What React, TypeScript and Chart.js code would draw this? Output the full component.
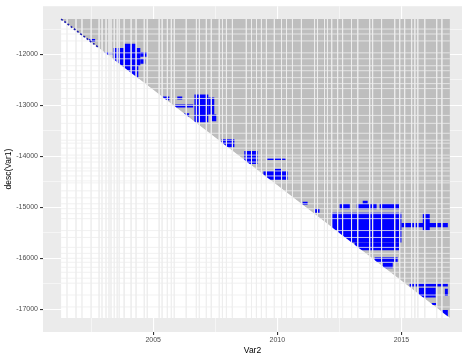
import { useEffect, useRef } from 'react';
import { Chart, registerables } from 'chart.js';
Chart.register(...registerables);

// Axis limits (Var2 in years, desc(Var1) values)
const X_LIMITS = [2000.56, 2017.44];
const Y_LIMITS = [-17448, -11051];
const X_MAJOR = [2005, 2010, 2015];
const X_MINOR = [2002.5, 2007.5, 2012.5];
const Y_MAJOR = [-17000, -16000, -15000, -14000, -13000, -12000];
const Y_MINOR = [-16500, -15500, -14500, -13500, -12500, -11500];

// Extent of the tile grid
const TILE_X = [2001.29, 2016.95];
const TILE_Y = [-11304, -17171];

// Blue cells: [x1, x2, y1, y2]
const BLUE_CELLS = [
  [2003.39, 2004.48, -11870, -12220],
  [2003.83, 2004.31, -11790, -11890],
  [2004.48, 2004.76, -11950, -12045],
  [2004.48, 2004.68, -12085, -12180],
  [2003.75, 2004.4, -12220, -12475],
  [2002.98, 2003.35, -11950, -12005],
  [2002.42, 2002.66, -11695, -11750],
  [2006.66, 2007.22, -12785, -13330],
  [2007.22, 2007.46, -12845, -13175],
  [2007.34, 2007.54, -13175, -13310],
  [2005.36, 2005.65, -12825, -12900],
  [2005.97, 2006.17, -12825, -12885],
  [2005.89, 2006.61, -12980, -13040],
  [2006.25, 2006.45, -13155, -13215],
  [2007.75, 2008.27, -13660, -13820],
  [2008.67, 2009.2, -13895, -14150],
  [2009.6, 2010.33, -14035, -14070],
  [2009.44, 2010.41, -14285, -14460],
  [2009.89, 2010.17, -14245, -14285],
  [2012.19, 2015.0, -15105, -15690],
  [2012.51, 2012.92, -14930, -15040],
  [2013.2, 2014.0, -14930, -15040],
  [2014.12, 2014.93, -14930, -15040],
  [2013.44, 2013.64, -14870, -14970],
  [2015.0, 2016.87, -15310, -15390],
  [2015.86, 2016.14, -15125, -15455],
  [2013.11, 2014.93, -15690, -15845],
  [2013.92, 2014.85, -15980, -16080],
  [2014.25, 2014.65, -16080, -16195],
  [2015.33, 2016.87, -16500, -16555],
  [2015.7, 2016.38, -16580, -16770],
  [2016.22, 2016.42, -16880, -16920],
  [2016.63, 2016.87, -17015, -17150],
  [2016.75, 2016.87, -16600, -16740],
  [2011.02, 2011.22, -14890, -14950],
  [2011.5, 2011.7, -15030, -15105],
];

// Blue cells along the diagonal at the start
const DIAG_BLUE_X = [2001.29, 2002.82];
const DIAG_BLUE_Y = [-11304, -11870];

// Gaps between tiles
const V_GAPS = [
  2001.53, 2001.89, 2002.13, 2002.5, 2002.82, 2002.94, 2003.1, 2003.22, 2003.3, 2003.43,
  2003.55, 2003.63, 2003.83, 2004.11, 2004.31, 2004.64, 2004.76, 2005.24, 2005.36, 2005.57,
  2005.73, 2005.85, 2006.33, 2006.74, 2006.86, 2007.14, 2007.34, 2007.66, 2007.79, 2007.95,
  2008.19, 2008.75, 2008.96, 2009.16, 2009.36, 2009.56, 2009.88, 2010.17, 2010.37, 2010.61,
  2010.97, 2011.5, 2011.62, 2011.9, 2012.02, 2012.19, 2012.43, 2012.63, 2012.99, 2013.24,
  2013.72, 2013.84, 2014.2, 2014.73, 2014.93, 2015.13, 2015.41, 2015.54, 2015.66, 2015.94,
  2016.42, 2016.63,
];
const H_GAPS = [
  -11499, -11597, -11733, -11967, -12084, -12220, -12318, -12454, -12571, -12669, -12863,
  -13000, -13195, -13351, -13546, -13682, -13740, -13838, -13975, -14033, -14111, -14228,
  -14286, -14384, -14481, -14520, -14676, -14813, -14930, -15027, -15124, -15222, -15456,
  -15592, -15787, -15904, -16001, -16080, -16177, -16275, -16392, -16489, -16722, -16956,
];

const FONT = 'Liberation Sans, Arial, sans-serif';

const rectPoly = (r: number[]) => [
  { x: r[0], y: r[2] },
  { x: r[1], y: r[2] },
  { x: r[1], y: r[3] },
  { x: r[0], y: r[3] },
  { x: r[0], y: r[2] },
];

const shape = (data: any[], color: string, order: number) => ({
  data,
  fill: 'shape',
  backgroundColor: color,
  borderColor: 'rgba(0,0,0,0)',
  borderWidth: 0,
  pointRadius: 0,
  order,
});

export default function App() {
  const ref = useRef<HTMLCanvasElement>(null);

  useEffect(() => {
    const [x0, x1] = TILE_X;
    const [y0, y1] = TILE_Y;
    const gray = [
      { x: x0, y: y0 },
      { x: x1, y: y0 },
      { x: x1, y: y1 },
      { x: x0, y: y0 },
    ];
    const white = [
      { x: x0, y: y0 },
      { x: x1, y: y1 },
      { x: x0, y: y1 },
      { x: x0, y: y0 },
    ];
    const vGap = V_GAPS.flatMap((x) => [
      { x, y: y0 },
      { x, y: y1 },
      { x, y: null },
    ]);
    const hGap = H_GAPS.flatMap((y) => [
      { x: x0, y },
      { x: x1, y },
      { x: x1, y: null },
    ]);
    const gapStyle = {
      fill: false,
      borderColor: '#EEEEEE',
      borderWidth: 0.8,
      pointRadius: 0,
      spanGaps: false,
      order: 2,
    };

    const datasets: any[] = [
      shape(gray, '#BEBEBE', 6),
      ...BLUE_CELLS.map((r) => shape(rectPoly(r), '#0000FF', 5)),
      shape(white, '#FFFFFF', 4),
      { ...gapStyle, data: vGap },
      { ...gapStyle, data: hGap },
      {
        data: DIAG_BLUE_X.map((x, i) => ({ x, y: DIAG_BLUE_Y[i] })),
        fill: false,
        borderColor: '#1A1AB0',
        borderWidth: 1.6,
        borderDash: [2, 2],
        pointRadius: 0,
        order: 1,
      },
    ];

    const bg = {
      id: 'panelBg',
      beforeDraw(chart: any) {
        const { ctx, chartArea: a } = chart;
        ctx.save();
        ctx.fillStyle = '#FFFFFF';
        ctx.fillRect(0, 0, chart.width, chart.height);
        ctx.fillStyle = '#EBEBEB';
        ctx.fillRect(a.left, a.top, a.right - a.left, a.bottom - a.top);
        ctx.restore();
      },
    };

    const xGrid = [...X_MINOR, ...X_MAJOR].sort((a, b) => a - b);
    const yGrid = [...Y_MINOR, ...Y_MAJOR].sort((a, b) => a - b);

    const chart = new Chart(ref.current!, {
      type: 'line',
      data: { datasets },
      plugins: [bg],
      options: {
        animation: false,
        responsive: false,
        events: [],
        layout: { padding: { left: 0, top: 4, right: 12, bottom: 0 } },
        plugins: { legend: { display: false }, tooltip: { enabled: false } },
        scales: {
          x: {
            type: 'linear',
            min: X_LIMITS[0],
            max: X_LIMITS[1],
            afterBuildTicks: (s: any) => {
              s.ticks = xGrid.map((v) => ({ value: v }));
            },
            afterFit: (s: any) => {
              s.height = 26;
            },
            border: { display: false },
            grid: {
              color: '#FFFFFF',
              lineWidth: (c: any) => (X_MAJOR.includes(c.tick?.value) ? 1.1 : 0.5),
              tickLength: 3,
              tickColor: (c: any) => (X_MAJOR.includes(c.tick?.value) ? '#333333' : 'rgba(0,0,0,0)'),
            },
            ticks: {
              autoSkip: false,
              maxRotation: 0,
              padding: 1,
              color: '#4D4D4D',
              font: { size: 7, family: FONT },
              callback: (v: any) => (X_MAJOR.includes(v) ? String(v) : ''),
            },
            title: {
              display: true,
              text: 'Var2',
              color: '#000000',
              font: { size: 8.5, family: FONT },
              padding: { top: 0, bottom: 2 },
            },
          },
          y: {
            type: 'linear',
            min: Y_LIMITS[0],
            max: Y_LIMITS[1],
            afterBuildTicks: (s: any) => {
              s.ticks = yGrid.map((v) => ({ value: v }));
            },
            afterFit: (s: any) => {
              s.width = 43;
            },
            border: { display: false },
            grid: {
              color: '#FFFFFF',
              lineWidth: (c: any) => (Y_MAJOR.includes(c.tick?.value) ? 1.1 : 0.5),
              tickLength: 3,
              tickColor: (c: any) => (Y_MAJOR.includes(c.tick?.value) ? '#333333' : 'rgba(0,0,0,0)'),
            },
            ticks: {
              autoSkip: false,
              padding: 2,
              color: '#4D4D4D',
              font: { size: 7, family: FONT },
              callback: (v: any) => (Y_MAJOR.includes(v) ? String(v) : ''),
            },
            title: {
              display: true,
              text: 'desc(Var1)',
              color: '#000000',
              font: { size: 8.5, family: FONT },
              padding: { top: 4, bottom: 0 },
            },
          },
        },
      },
    } as any);
    return () => chart.destroy();
  }, []);

  return (
    <div style={{ position: 'absolute', left: 0, top: 0, width: 474, height: 358, background: '#fff' }}>
      <canvas ref={ref} width={474} height={358} />
    </div>
  );
}
